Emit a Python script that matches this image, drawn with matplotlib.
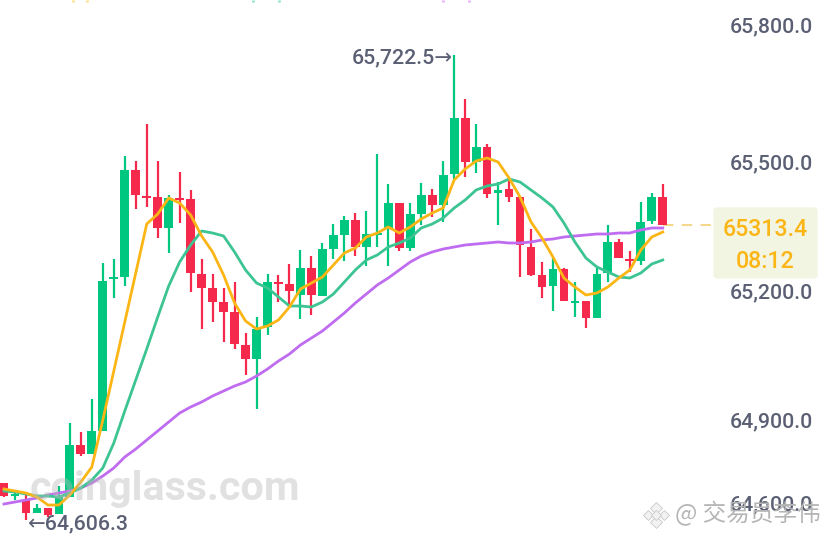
import matplotlib
matplotlib.use("Agg")
import matplotlib.pyplot as plt
from matplotlib.patches import FancyBboxPatch
import numpy as np

plt.rcParams['font.family'] = ['Roboto', 'DejaVu Sans']

opens = [64695.3,64664.1,64654.5,64623.3,64635.3,64620.9,64661.7,64786.5,64764.9,64820.1,
         65184.9,65189.7,65446.5,65384.1,65381.7,65307.3,65379.3,65376.9,65196.9,65163.3,
         65129.7,65105.7,65026.5,64992.9,65069.7,65177.7,65172.9,65146.5,65211.3,65144.1,
         65256.9,65290.5,65326.5,65261.7,65290.5,65307.3,65367.3,65259.3,65340.9,65386.5,
         65362.5,65436.9,65571.3,65465.7,65501.7,65391.3,65400.9,65381.7,65261.7,65194.5,
         65168.1,65208.9,65127.3,65132.1,65091.3,65199.3,65273.7,65232.9,65228.1,65324.1,
         65381.7]
closes = [64664.1,64668.9,64623.3,64635.3,64618.5,64661.7,64786.5,64764.9,64820.1,65180.1,
          65189.7,65446.5,65386.5,65379.3,65307.3,65379.3,65374.5,65199.3,65163.3,65129.7,
          65105.7,65028.9,64992.9,65064.9,65177.7,65172.9,65156.1,65211.3,65146.5,65256.9,
          65290.5,65326.5,65261.7,65292.9,65295.3,65367.3,65259.3,65340.9,65386.5,65362.5,
          65434.5,65571.3,65465.7,65501.7,65388.9,65398.5,65381.7,65266.5,65194.5,65165.7,
          65208.9,65132.1,65132.1,65091.3,65196.9,65273.7,65235.3,65228.1,65321.7,65381.7,
          65313.4]
highs = [64695.3,64671.3,64666.5,64644.9,64635.3,64688.1,64839.3,64817.7,64896.9,65223.3,
         65232.9,65480.1,65468.1,65556.9,65468.1,65386.5,65441.7,65398.5,65232.9,65196.9,
         65163.3,65177.7,65055.3,65093.7,65196.9,65194.5,65220.9,65254.5,65240.1,65271.3,
         65316.9,65336.1,65343.3,65348.1,65484.9,65412.9,65367.3,65367.3,65415.3,65400.9,
         65468.1,65722.5,65616.9,65556.9,65508.9,65417.7,65422.5,65381.7,65304.9,65225.7,
         65235.3,65211.3,65177.7,65132.1,65211.3,65314.5,65280.9,65252.1,65369.7,65391.3,
         65412.9]
lows = [64661.7,64654.5,64606.3,64623.3,64613.7,64620.9,64661.7,64760.1,64764.9,64820.1,
        65139.3,65168.1,65352.9,65357.7,65283.3,65247.3,65319.3,65153.7,65064.9,65081.7,
        65033.7,65016.9,64954.5,64872.9,65050.5,65129.7,65117.7,65088.9,65098.5,65144.1,
        65232.9,65228.1,65240.1,65216.1,65261.7,65216.1,65252.1,65252.1,65314.5,65333.7,
        65321.7,65424.9,65429.7,65439.3,65379.3,65314.5,65369.7,65189.7,65192.1,65139.3,
        65108.1,65132.1,65093.7,65067.3,65091.3,65177.7,65235.3,65201.7,65218.5,65316.9,
        65313.4]
ma_fast = [64680.9,64676.1,64671.3,64661.7,64642.5,64642.5,64666.5,64697.7,64733.7,64846.5,
           64964.1,65081.7,65199.3,65316.9,65340.9,65379.3,65367.3,65338.5,65288.1,65249.7,
           65194.5,65127.3,65084.1,65064.9,65072.1,65086.5,65117.7,65160.9,65175.3,65189.7,
           65218.5,65247.3,65259.3,65285.7,65295.3,65309.7,65295.3,65309.7,65328.9,65343.3,
           65355.3,65422.5,65448.9,65468.1,65475.3,65465.7,65427.3,65381.7,65321.7,65283.3,
           65237.7,65187.3,65165.7,65146.5,65151.3,65165.7,65187.3,65206.5,65254.5,65285.7,
           65297.7]
ma_mid = [64676.1,64673.7,64668.9,64664.1,64664.1,64661.7,64671.3,64683.3,64702.5,64731.3,
          64791.3,64868.1,64942.5,65016.9,65093.7,65168.1,65225.7,65266.5,65300.1,65295.3,
          65288.1,65249.7,65206.5,65175.3,65163.3,65141.7,65120.1,65120.1,65117.7,65129.7,
          65148.9,65177.7,65206.5,65230.5,65242.5,65261.7,65271.3,65283.3,65307.3,65316.9,
          65331.3,65355.3,65374.5,65398.5,65408.1,65412.9,65424.9,65417.7,65398.5,65379.3,
          65357.7,65319.3,65273.7,65235.3,65213.7,65201.7,65189.7,65187.3,65199.3,65220.9,
          65230.5]
ma_slow = [64644.9,64649.7,64654.5,64659.3,64666.5,64671.3,64676.1,64683.3,64695.3,64712.1,
           64731.3,64757.7,64776.9,64798.5,64820.1,64841.7,64863.3,64877.7,64889.7,64904.1,
           64916.1,64928.1,64937.7,64952.1,64968.9,64988.1,65004.9,65026.5,65043.3,65060.1,
           65081.7,65103.3,65127.3,65148.9,65170.5,65187.3,65206.5,65225.7,65240.1,65249.7,
           65256.9,65261.7,65266.5,65268.9,65271.3,65273.7,65271.3,65271.3,65273.7,65278.5,
           65280.9,65285.7,65288.1,65290.5,65292.9,65292.9,65295.3,65295.3,65302.5,65307.3,
           65307.3]
axis_labels = ['65,800.0', '65,500.0', '65,200.0', '64,900.0', '64,600.0']
axis_label_pos = [65790.0, 65461.0, 65151.5, 64842.0, 64644.0]
last_price = '65313.4'
countdown = '08:12'
high_label = '65,722.5→'
low_label = '←64,606.3'
watermark = 'coinglass.com'
credit = '@ 交易员李伟'

GREEN, RED = '#00c77f', '#f4294b'
W, H = 829, 539
fig = plt.figure(figsize=(W / 100, H / 100), dpi=100, facecolor='white')
ax = fig.add_axes([0, 0, 1, 1])
ax.set_xlim(-0.364, 75.14)
ax.set_ylim(64560.9, 65854.5)
ax.axis('off')

idx = np.arange(len(opens))
o, c, h, l = map(np.array, (opens, closes, highs, lows))
colors = [GREEN if cc >= oo else RED for oo, cc in zip(o, c)]
ax.vlines(idx, l, h, colors=colors, lw=1.6, zorder=2)
ax.bar(idx, np.maximum(np.abs(c - o), 4.5), bottom=np.minimum(o, c), width=0.8,
       color=colors, lw=0, zorder=3)

ax.plot(idx, ma_slow, color='#bf6cf0', lw=2.0, zorder=4, solid_joinstyle='round')
ax.plot(idx, ma_mid, color='#3cc492', lw=2.0, zorder=5, solid_joinstyle='round')
ax.plot(idx, ma_fast, color='#fbb616', lw=2.0, zorder=6, solid_joinstyle='round')

TXT = '#5a5f73'
tr = ax.get_yaxis_transform()
for lab, pos in zip(axis_labels, axis_label_pos):
    ax.text(813 / W, pos, lab, transform=tr, ha='right', va='center',
            color=TXT, fontsize=15.3, fontweight='medium', zorder=8)

ax.annotate(high_label, xy=(41, 65722.5), xytext=(-1, -3), textcoords='offset pixels',
            ha='right', va='center', color=TXT, fontsize=15.3, fontweight='medium', zorder=8)
ax.annotate(low_label, xy=(2, 64606.3), xytext=(2, -4), textcoords='offset pixels',
            ha='left', va='center', color=TXT, fontsize=15.3, fontweight='medium', zorder=8)

# current-price tag
ax.plot([60, 64.6], [closes[-1], closes[-1]], color='#f3d88e', lw=1.5,
        dashes=(5, 4), zorder=2)
ax.add_patch(FancyBboxPatch((714 / W, 1 - 278 / H), 103 / W, 70 / H,
                            boxstyle='round,pad=0,rounding_size=0.005',
                            transform=ax.transAxes, fc='#f3f5e3', ec='#f3f5e3',
                            lw=1, zorder=7))
ax.text(765.5 / W, 1 - 230 / H, last_price, transform=ax.transAxes, ha='center', va='center',
        color='#fbb616', fontsize=16.7, fontweight='medium', zorder=8)
ax.text(765.5 / W, 1 - 261 / H, countdown, transform=ax.transAxes, ha='center', va='center',
        color='#fbb616', fontsize=16.7, fontweight='medium', zorder=8)

# watermarks
ax.text(30 / W, 1 - 489 / H, watermark, transform=ax.transAxes, ha='left', va='center',
        color='#b9b9b9', alpha=0.42, fontsize=29.7, fontweight='bold', zorder=7)
ax.text(675 / W, 1 - 514 / H, credit, transform=ax.transAxes, ha='left', va='center',
        color='#b5b5b5', fontsize=17, zorder=9,
        family=['Noto Sans CJK SC', 'DejaVu Sans'])
for dx, dy, s in [(0, -7, 42), (0, 7, 42), (-8, 0, 24), (8, 0, 24), (0, 0, 24)]:
    ax.plot([(656 + dx) / W], [1 - (515 + dy) / H], transform=ax.transAxes, marker='D',
            ms=s ** 0.5, mfc='#f2f2f2', mec='#c9c9c9', mew=0.6, zorder=9)

# clipped legend remnants at the very top edge
for px, col in [(73, '#fbe08a'), (87, '#fbe08a'), (253, '#8ee6c8'), (279, '#8ee6c8'),
                (443, '#e8b0f8'), (469, '#e8b0f8')]:
    ax.plot([px / W, px / W], [1, 1 - 1.5 / H], transform=ax.transAxes, color=col, lw=2,
            solid_capstyle='butt', zorder=9)

fig.savefig('out.png', dpi=100, facecolor='white')
